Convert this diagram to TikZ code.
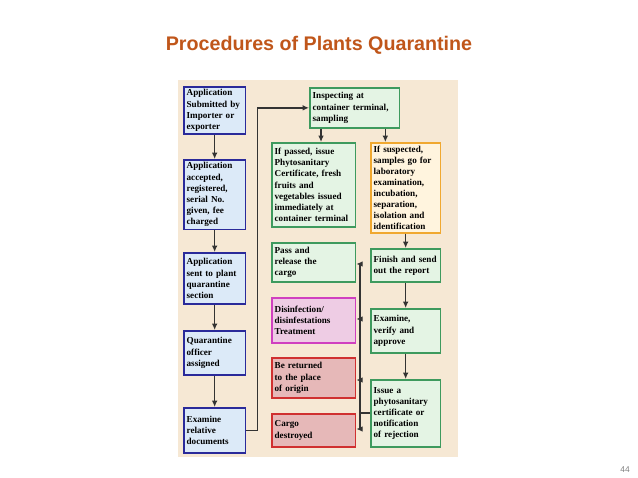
\documentclass[tikz,border=0pt]{standalone}
\usepackage{fontspec}
\setmainfont{Liberation Serif}
\setsansfont{Liberation Sans}
\usetikzlibrary{positioning, arrows.meta}
\definecolor{panel}{HTML}{F6E8D4}
\definecolor{titleor}{HTML}{C0561A}
\definecolor{bluedraw}{HTML}{2A2A9A}
\definecolor{bluefill}{HTML}{DCEAF8}
\definecolor{greendraw}{HTML}{3E9A5E}
\definecolor{greenfill}{HTML}{E4F4E4}
\definecolor{oradraw}{HTML}{F0A830}
\definecolor{orafill}{HTML}{FFF4DE}
\definecolor{magdraw}{HTML}{D040C0}
\definecolor{magfill}{HTML}{EECCE4}
\definecolor{reddraw}{HTML}{D03030}
\definecolor{redfill}{HTML}{E6B8B8}

\begin{document}
\begin{tikzpicture}[x=0.025cm, y=-0.025cm,
            box/.style={rectangle, anchor=north west, line width=1.2pt, align=left, inner sep=2pt,
              font=\bfseries\fontsize{6.5}{7.9}\selectfont},
            bluebox/.style={box, draw=bluedraw, fill=bluefill},
            greenbox/.style={box, draw=greendraw, fill=greenfill},
            orabox/.style={box, draw=oradraw, fill=orafill},
            magbox/.style={box, draw=magdraw, fill=magfill},
            redbox/.style={box, draw=reddraw, fill=redfill},
            link/.style={-{Latex[length=4.5pt,width=4pt]}, line width=1.1pt, black!80}
        ]
\useasboundingbox (0,0) rectangle (638,478);
\fill[white] (0,0) rectangle (638,478);
\fill[panel] (178,80) rectangle (458,457);

% Title
            \node[font=\sffamily\bfseries\fontsize{14}{16}\selectfont, text=titleor] (title) at (319,45) {Procedures of Plants Quarantine};
            \node[font=\sffamily\fontsize{6}{7}\selectfont, text=black!50] (pagenum) at (625,470) {44};

% Left column
            \node[bluebox, text width=1.4cm, minimum height=1.15cm] (submit) at (183,86) {Application\\Submitted by\\Importer or\\exporter};
            \node[bluebox, text width=1.4cm, minimum height=1.68cm] (accept) at (183,159) {Application\\accepted,\\registered,\\serial No.\\given, fee\\charged};
            \node[bluebox, text width=1.4cm, minimum height=1.28cm] (sent) at (183,252) {Application\\sent to plant\\quarantine\\section};
            \node[bluebox, text width=1.4cm, minimum height=1.1cm] (officer) at (183,330) {Quarantine\\officer\\assigned};
            \node[bluebox, text width=1.4cm, minimum height=1.13cm] (examdoc) at (183,407) {Examine\\relative\\documents};

% Middle column
            \node[greenbox, text width=2.1cm, minimum height=1.0cm] (inspect) at (309,87) {Inspecting at\\container terminal,\\sampling};
            \node[greenbox, text width=1.95cm, minimum height=2.1cm] (passed) at (271,142) {If passed, issue\\Phytosanitary\\Certificate, fresh\\fruits and\\vegetables issued\\immediately at\\container terminal};
            \node[greenbox, text width=1.95cm, minimum height=0.98cm] (release) at (271,242) {Pass and\\release the\\cargo};
            \node[magbox, text width=1.95cm, minimum height=1.13cm] (disinf) at (271,297) {Disinfection/\\disinfestations\\Treatment};
            \node[redbox, text width=1.95cm, minimum height=1.0cm] (returned) at (271,357) {Be returned\\to the place\\of origin};
            \node[redbox, text width=1.95cm, minimum height=0.83cm] (destroyed) at (271,413) {Cargo\\destroyed};

% Right column
            \node[orabox, text width=1.6cm, minimum height=2.1cm] (suspect) at (370,142) {If suspected,\\samples go for\\laboratory\\examination,\\incubation,\\separation,\\isolation and\\identification};
            \node[greenbox, text width=1.6cm, minimum height=0.83cm] (finish) at (370,248) {Finish and send\\out the report};
            \node[greenbox, text width=1.6cm, minimum height=1.1cm] (verify) at (370,308) {Examine,\\verify and\\approve};
            \node[greenbox, text width=1.6cm, minimum height=1.68cm] (issue) at (370,379) {Issue a\\phytosanitary\\certificate or\\notification\\of rejection};

% Arrows
            \draw[link] (submit) -- (accept);
            \draw[link] (accept) -- (sent);
            \draw[link] (sent) -- (officer);
            \draw[link] (officer) -- (examdoc);
            \draw[link] (examdoc.east) -- ++(11,0) |- (inspect.west);
            \coordinate (ia) at ([xshift=0.3cm]inspect.south west);
            \coordinate (ib) at ([xshift=-0.375cm]inspect.south east);
            \draw[link] (ia) -- (ia |- passed.north);
            \draw[link] (ib) -- (ib |- suspect.north);
            \draw[link] (suspect) -- (finish);
            \draw[link] (finish) -- (verify);
            \draw[link] (verify) -- (issue);
            \coordinate (bus) at (360,413);
            \coordinate (b1) at (360,264);
            \coordinate (b2) at (360,319);
            \coordinate (b3) at (360,380);
            \coordinate (b4) at (360,429);
            \draw[line width=1.1pt, black!80] (issue.west |- bus) -- (bus) -- (b1) (bus) -- (b4);
            \draw[link] (b1) -- (b1 -| release.east);
            \draw[link] (b2) -- (b2 -| disinf.east);
            \draw[link] (b3) -- (b3 -| returned.east);
            \draw[link] (b4) -- (b4 -| destroyed.east);
        \end{tikzpicture}
\end{document}
